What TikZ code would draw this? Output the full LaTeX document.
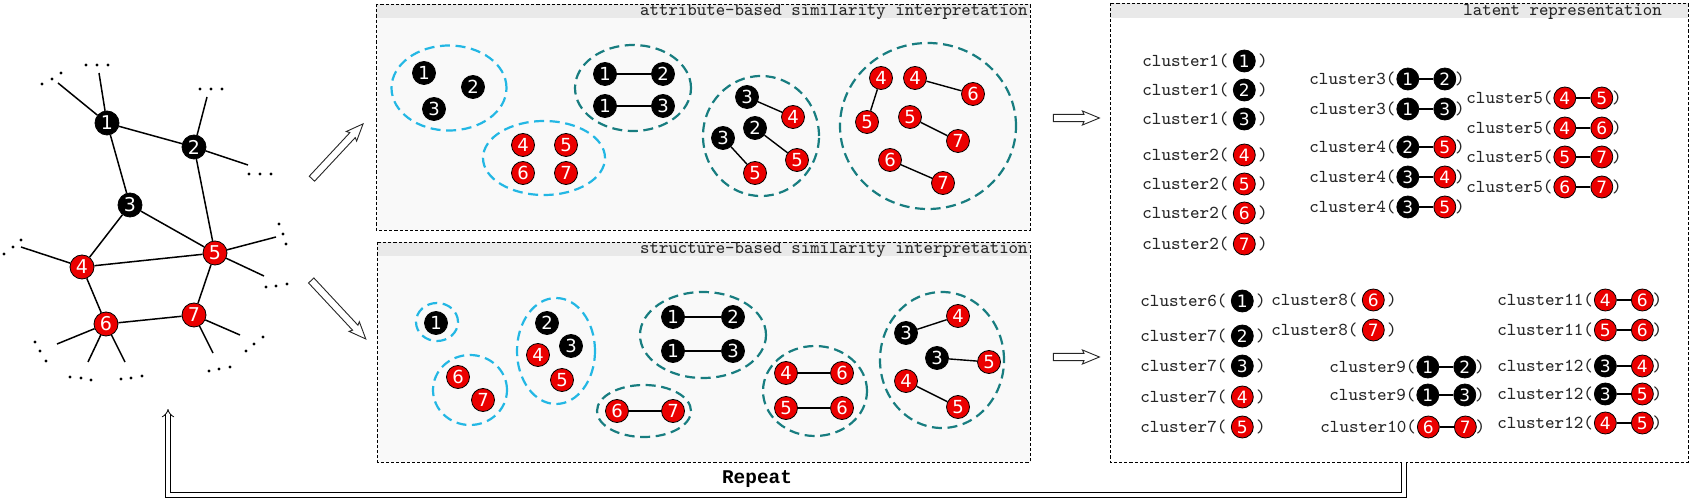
\documentclass[tikz,border=0pt]{standalone}
\usepackage{fontspec}
\setmainfont{DejaVu Sans}
\newfontfamily\repfont{Liberation Mono}
\usetikzlibrary{arrows.meta,calc,shapes.arrows}
\definecolor{nred}{RGB}{235,0,0}
\definecolor{cyanc}{RGB}{35,183,228}
\definecolor{tealc}{RGB}{24,125,128}
\definecolor{panelbg}{RGB}{249,249,249}
\definecolor{headbg}{RGB}{233,233,233}
\tikzset{
 gb/.style={circle, fill=black, draw=black, line width=0.4pt, text=white, inner sep=0pt, minimum size=12pt, font=\fontsize{9.5}{10}\selectfont},
 gr/.style={gb, fill=nred},
 pb/.style={circle, fill=black, draw=black, line width=0.4pt, text=white, inner sep=0pt, minimum size=11.5pt, font=\fontsize{9}{10}\selectfont},
 pr/.style={pb, fill=nred},
 lb/.style={pb, minimum size=11pt, font=\fontsize{8.5}{10}\selectfont},
 lr/.style={lb, fill=nred},
 gedge/.style={line width=0.75pt},
 pedge/.style={line width=0.7pt},
 latedge/.style={line width=0.8pt},
 cyc/.style={draw=cyanc, line width=1.1pt, dash pattern=on 5pt off 2.8pt},
 tec/.style={draw=tealc, line width=1.1pt, dash pattern=on 5pt off 2.8pt},
 panel/.style={draw=black, line width=0.4pt, dash pattern=on 1.6pt off 1pt},
 lt/.style={font=\ttfamily\fontsize{9.1}{10}\selectfont, inner sep=0pt, text=black!85},
 ttl/.style={font=\ttfamily\fontsize{9}{10}\selectfont, inner sep=0pt, text=black!85, anchor=east},
 harrow/.style={double, double distance=1.8pt, line width=0.4pt, -{Implies}},
 blockarrow/.style={single arrow, draw=black!85, fill=white, line width=0.45pt,
   inner xsep=0pt, inner ysep=1.6pt, single arrow head extend=1.7pt,
   single arrow tip angle=45, single arrow head indent=0.8pt},
}
\newcommand\lone[6]{%
 \node[#5] (#1a) at ([xshift=7.75pt]#1.east) {#6};
}
\newcommand\lonetext[4]{%
 \node[lt,anchor=west] (#1) at (#2,#3) {#4(};
 \node[lt] (#1p) at ([xshift=17pt]#1.east) {)};
}
\newcommand\ltwo[8]{%
 \node[lt,anchor=west] (#1) at (#2,#3) {#4(};
 \node[#5] (#1a) at ([xshift=6pt]#1.east) {#6};
 \node[#7] (#1b) at ([xshift=18.5pt]#1a.center) {#8};
 \draw[latedge] (#1a) -- (#1b);
 \node[lt] (#1p) at ([xshift=7.5pt]#1b.center) {)};
}
\newcommand\lsingle[6]{\lonetext{#1}{#2}{#3}{#4}\lone{#1}{#2}{#3}{#4}{#5}{#6}}
\begin{document}
\begin{tikzpicture}[x=0.5pt,y=-0.5pt]
\useasboundingbox (0,0) rectangle (1693,502);

% ---------- left graph ----------
\node[gb] (g1) at (107,123) {1};
\node[gb] (g2) at (194,147) {2};
\node[gb] (g3) at (130,205) {3};
\node[gr] (g4) at (82,267) {4};
\node[gr] (g5) at (215,253) {5};
\node[gr] (g6) at (106,324) {6};
\node[gr] (g7) at (194,315) {7};
\coordinate (d1a) at (99,73);
\coordinate (d1b) at (58,83);
\coordinate (d2a) at (207,97);
\coordinate (d2b) at (248,165);
\coordinate (d4a) at (21,247);
\coordinate (d5a) at (276,237);
\coordinate (d5b) at (264,276);
\coordinate (d6a) at (57,344);
\coordinate (d6b) at (88,362);
\coordinate (d6c) at (125,362);
\coordinate (d7a) at (240,335);
\coordinate (d7b) at (213,353);
\foreach \a/\b in {g1/g2,g1/g3,g2/g5,g3/g4,g3/g5,g4/g5,g4/g6,g5/g7,g6/g7,
  g1/d1a,g1/d1b,g2/d2a,g2/d2b,g4/d4a,g5/d5a,g5/d5b,g6/d6a,g6/d6b,g6/d6c,g7/d7a,g7/d7b}
  \draw[gedge] (\a) -- (\b);
\foreach \x/\y in {86/65,97/65,108/65, 42/84,52/79,61/73, 200/89,211/89,222/89,
  249/174,260/174,271/174, 4/254,13/247,21/240, 279/224,283/234,286/244,
  266/287,276/286,287/284, 35/342,40/351,46/361, 70/377,81/378,91/380,
  121/379,131/378,142/376, 209/371,219/369,230/367, 246/351,254/344,263/337}
  \fill (\x,\y) circle[radius=0.8pt];

% ---------- panels ----------
\fill[panelbg] (376,4) rectangle (1030,230);
\fill[headbg] (376,4) rectangle (1030,18);
\draw[panel] (376,4) rectangle (1030,230);
\node[ttl] (ta) at (1028,12) {attribute-based similarity interpretation};

\fill[panelbg] (377,242) rectangle (1030,462);
\fill[headbg] (377,242) rectangle (1030,256);
\draw[panel] (377,242) rectangle (1030,462);
\node[ttl] (ts) at (1028,250) {structure-based similarity interpretation};

\fill[white] (1110,3) rectangle (1688,462);
\fill[headbg] (1110,3) rectangle (1688,18);
\draw[panel] (1110,3) rectangle (1688,462);
\node[ttl,anchor=west] (tl) at (1463,12) {latent representation};

% ---------- attribute clusters ----------
\draw[cyc] (449,88) ellipse [x radius=28.75pt, y radius=21.25pt];
\draw[cyc] (544,158) ellipse [x radius=30.5pt, y radius=18.5pt];
\draw[tec] (633,88) ellipse [x radius=29pt, y radius=21.5pt];
\draw[tec] (761,136) ellipse [x radius=29pt, y radius=30pt];
\draw[tec] (928,126) ellipse [x radius=44pt, y radius=41.5pt];

\node[pb] (a11) at (424,73) {1};
\node[pb] (a12) at (473,87) {2};
\node[pb] (a13) at (434,109) {3};
\node[pr] (a24) at (523,145) {4};
\node[pr] (a25) at (566,145) {5};
\node[pr] (a26) at (523,173) {6};
\node[pr] (a27) at (566,173) {7};
\node[pb] (a31) at (605,74) {1};
\node[pb] (a32) at (663,74) {2};
\node[pb] (a33) at (605,106) {1};
\node[pb] (a34) at (663,106) {3};
\draw[pedge] (a31) -- (a32);
\draw[pedge] (a33) -- (a34);
\node[pb] (a41) at (747,97) {3};
\node[pr] (a42) at (793,117) {4};
\node[pb] (a43) at (755,128) {2};
\node[pr] (a44) at (797,160) {5};
\node[pb] (a45) at (723,138) {3};
\node[pr] (a46) at (755,173) {5};
\draw[pedge] (a41) -- (a42);
\draw[pedge] (a43) -- (a44);
\draw[pedge] (a45) -- (a46);
\node[pr] (a51) at (881,78) {4};
\node[pr] (a52) at (867,122) {5};
\node[pr] (a53) at (915,78) {4};
\node[pr] (a54) at (973,94) {6};
\node[pr] (a55) at (910,117) {5};
\node[pr] (a56) at (958,141) {7};
\node[pr] (a57) at (890,160) {6};
\node[pr] (a58) at (943,183) {7};
\draw[pedge] (a51) -- (a52);
\draw[pedge] (a53) -- (a54);
\draw[pedge] (a55) -- (a56);
\draw[pedge] (a57) -- (a58);

% ---------- structure clusters ----------
\draw[cyc] (437,322) ellipse [x radius=10.5pt, y radius=9.5pt];
\draw[cyc] (470,390) ellipse [x radius=18.5pt, y radius=17.5pt];
\draw[cyc] (556,351) ellipse [x radius=19.5pt, y radius=26.5pt];
\draw[tec] (703,335) ellipse [x radius=31.5pt, y radius=21.5pt];
\draw[tec] (644,411) ellipse [x radius=23.5pt, y radius=13pt];
\draw[tec] (815,391) ellipse [x radius=26pt, y radius=22.5pt];
\draw[tec] (942,360) ellipse [x radius=31pt, y radius=34pt];

\node[pb] (s11) at (436,323) {1};
\node[pr] (s21) at (458,377) {6};
\node[pr] (s22) at (483,400) {7};
\node[pb] (s31) at (547,323) {2};
\node[pb] (s32) at (571,346) {3};
\node[pr] (s33) at (538,355) {4};
\node[pr] (s34) at (562,380) {5};
\node[pb] (s41) at (673,317) {1};
\node[pb] (s42) at (733,317) {2};
\node[pb] (s43) at (673,351) {1};
\node[pb] (s44) at (733,351) {3};
\draw[pedge] (s41) -- (s42);
\draw[pedge] (s43) -- (s44);
\node[pr] (s51) at (617,411) {6};
\node[pr] (s52) at (673,411) {7};
\draw[pedge] (s51) -- (s52);
\node[pr] (s61) at (786,373) {4};
\node[pr] (s62) at (842,373) {6};
\node[pr] (s63) at (786,408) {5};
\node[pr] (s64) at (842,408) {6};
\draw[pedge] (s61) -- (s62);
\draw[pedge] (s63) -- (s64);
\node[pb] (s71) at (906,333) {3};
\node[pr] (s72) at (958,316) {4};
\node[pb] (s73) at (937,358) {3};
\node[pr] (s74) at (989,362) {5};
\node[pr] (s75) at (906,381) {4};
\node[pr] (s76) at (958,407) {5};
\draw[pedge] (s71) -- (s72);
\draw[pedge] (s73) -- (s74);
\draw[pedge] (s75) -- (s76);

% ---------- latent representation ----------
\lsingle{c1a}{1142}{61}{cluster1}{lb}{1}
\lsingle{c1b}{1142}{90}{cluster1}{lb}{2}
\lsingle{c1c}{1142}{119}{cluster1}{lb}{3}
\lsingle{c2a}{1142}{155}{cluster2}{lr}{4}
\lsingle{c2b}{1142}{184}{cluster2}{lr}{5}
\lsingle{c2c}{1142}{213}{cluster2}{lr}{6}
\lsingle{c2d}{1142}{244}{cluster2}{lr}{7}
\ltwo{c3a}{1309}{79}{cluster3}{lb}{1}{lb}{2}
\ltwo{c3b}{1309}{109}{cluster3}{lb}{1}{lb}{3}
\ltwo{c4a}{1309}{147}{cluster4}{lb}{2}{lr}{5}
\ltwo{c4b}{1309}{177}{cluster4}{lb}{3}{lr}{4}
\ltwo{c4c}{1309}{207}{cluster4}{lb}{3}{lr}{5}
\ltwo{c5a}{1466}{98}{cluster5}{lr}{4}{lr}{5}
\ltwo{c5b}{1466}{128}{cluster5}{lr}{4}{lr}{6}
\ltwo{c5c}{1466}{157}{cluster5}{lr}{5}{lr}{7}
\ltwo{c5d}{1466}{187}{cluster5}{lr}{6}{lr}{7}
\lsingle{c6a}{1140}{301}{cluster6}{lb}{1}
\lsingle{c7a}{1140}{336}{cluster7}{lb}{2}
\lsingle{c7b}{1140}{366}{cluster7}{lb}{3}
\lsingle{c7c}{1140}{397}{cluster7}{lr}{4}
\lsingle{c7d}{1140}{427}{cluster7}{lr}{5}
\lsingle{c8a}{1271}{300}{cluster8}{lr}{6}
\lsingle{c8b}{1271}{330}{cluster8}{lr}{7}
\ltwo{c9a}{1329}{367}{cluster9}{lb}{1}{lb}{2}
\ltwo{c9b}{1329}{395}{cluster9}{lb}{1}{lb}{3}
\ltwo{c10}{1320}{427}{cluster10}{lr}{6}{lr}{7}
\ltwo{c11a}{1497}{300}{cluster11}{lr}{4}{lr}{6}
\ltwo{c11b}{1497}{330}{cluster11}{lr}{5}{lr}{6}
\ltwo{c12a}{1497}{366}{cluster12}{lb}{3}{lr}{4}
\ltwo{c12b}{1497}{394}{cluster12}{lb}{3}{lr}{5}
\ltwo{c12c}{1497}{423}{cluster12}{lr}{4}{lr}{5}

% ---------- arrows ----------
\node[blockarrow, minimum height=37.5pt, rotate=47] (au) at (334.5,154.5) {};
\node[blockarrow, minimum height=40pt, rotate=-47] (al) at (335.5,306.5) {};
\node[blockarrow, minimum height=23pt] (am) at (1072,118) {};
\node[blockarrow, minimum height=23pt] (an) at (1072,357) {};

\coordinate (r0) at (1404,462);
\coordinate (r1) at (168,495);
\coordinate (r2) at (168,409);
\draw[harrow] (r0) |- (r1) -- (r2);
\node[font=\repfont\bfseries\fontsize{9.7}{11}\selectfont, inner sep=0pt] (rep) at (757,479) {Repeat};
\end{tikzpicture}
\end{document}
